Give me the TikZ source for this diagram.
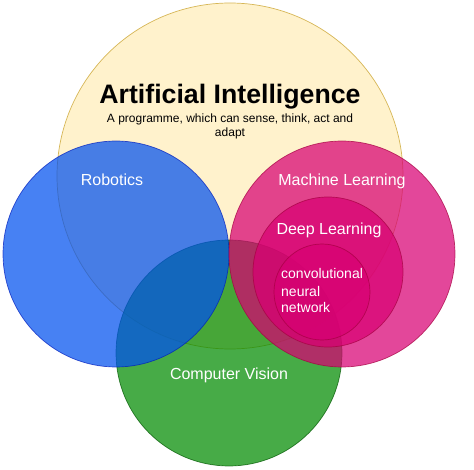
\documentclass[tikz,border=0pt]{standalone}
\usepackage{fontspec}
\setmainfont{Liberation Sans}
\usetikzlibrary{positioning}

\definecolor{aifill}{HTML}{FFF2CC}
\definecolor{aidraw}{HTML}{D6B656}
\definecolor{robfill}{HTML}{0050EF}
\definecolor{robdraw}{HTML}{001DBC}
\definecolor{mlfill}{HTML}{D80073}
\definecolor{mldraw}{HTML}{A50040}
\definecolor{cvfill}{HTML}{008A00}
\definecolor{cvdraw}{HTML}{005700}

\begin{document}
\begin{tikzpicture}[x=1pt, y=-1pt]
    % Define styles
    \tikzstyle{field}=[circle, inner sep=0pt, line width=0.7pt, opacity=0.72]
    \tikzstyle{fieldname}=[inner sep=0pt, text=white, anchor=base, font=\fontsize{16}{19}\selectfont]

    \useasboundingbox (0,0) rectangle (474,470);

    % Circles
    \node[field, fill=aifill, draw=aidraw, opacity=1, minimum size=346pt] (ai) at (230,176) {};
    \node[field, fill=cvfill, draw=cvdraw, minimum size=226pt] (cv) at (229,353) {};
    \node[field, fill=robfill, draw=robdraw, minimum size=226pt] (robotics) at (116,254) {};
    \node[field, fill=mlfill, draw=mldraw, minimum size=226pt] (ml) at (342,254) {};
    \node[field, fill=mlfill, draw=mldraw, minimum size=150pt] (dl) at (328,272) {};
    \node[field, fill=mlfill, draw=mldraw, minimum size=96pt] (cnn) at (322,292) {};

    % Title
    \node[inner sep=0pt, anchor=base, font=\fontsize{26.7}{30}\selectfont\bfseries] (aititle) at (230,104) {Artificial Intelligence};
    \node[inner sep=0pt, align=center, font=\fontsize{12}{14}\selectfont] (aitext) [below=4pt of aititle] {A programme, which can sense, think, act and\\adapt};

    % Labels
    \node[fieldname] (robname) at (112,186) {Robotics};
    \node[fieldname] (mlname) at (342,186) {Machine Learning};
    \node[fieldname] (dlname) at (329,235) {Deep Learning};
    \node[fieldname] (cvname) at (229,380) {Computer Vision};
    \node[fieldname, anchor=base west, align=left, font=\fontsize{14}{17}\selectfont] (cnnname) at (281,313) {convolutional\\neural\\network};
\end{tikzpicture}
\end{document}
